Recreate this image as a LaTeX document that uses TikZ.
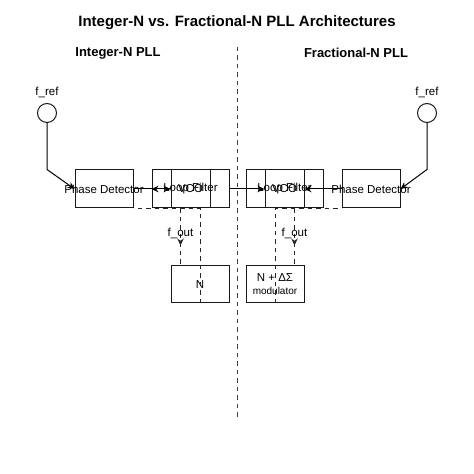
\documentclass[tikz,border=0pt]{standalone}
\usepackage{fontspec}
\setmainfont{Liberation Sans}
\usepackage{tikz}
\usetikzlibrary{arrows.meta,calc,positioning}

\tikzset{
  block/.style={draw=black!90, rectangle, minimum height=38pt, inner sep=0pt},
  fbline/.style={draw=black!85, dash pattern=on 4.5pt off 4pt},
  source/.style={draw=black!90, circle, minimum size=19pt, inner sep=0pt},
}

\begin{document}
\begin{tikzpicture}[x=1pt,y=1pt,>={Stealth[length=7pt,width=6.5pt]},line width=1pt,node distance=18pt,
    font=\fontsize{11.5}{14}\selectfont]
\useasboundingbox (0,0) rectangle (474,474);

% titles
\node[font=\bfseries\fontsize{15}{18}\selectfont] (title) at (237,451) {Integer-N vs. Fractional-N PLL Architectures};
\node[font=\bfseries\fontsize{13}{16}\selectfont] (intN) at (118,421) {Integer-N PLL};
\node[font=\bfseries\fontsize{13}{16}\selectfont] (fracN) at (356,421) {Fractional-N PLL};

% divider
\coordinate (divtop) at (237,427);
\coordinate (divbot) at (237,54);
\draw[fbline,draw=black!75] (divtop) -- (divbot);

% Integer-N side
\node[source,label={[label distance=1.5pt]above:f\_ref}] (ref1) at (47,361) {};
\node[block,minimum width=58pt] (pd1) at (104,285) {\makebox[0pt]{Phase Detector}};
\node[block,minimum width=77pt] [right=of pd1] (lf1) {Loop Filter};
\node[block,minimum width=39pt] (vco1) at (lf1) {VCO};
\node[block,minimum width=58pt,minimum height=37pt] [below left=57pt and 0pt of lf1.south east] (n1) {N};

% Fractional-N side
\node[source,label={[label distance=1.5pt]above:f\_ref}] (ref2) at (427,361) {};
\node[block,minimum width=77pt] (lf2) at (284.5,285) {Loop Filter};
\node[block,minimum width=58pt] [right=of lf2] (pd2) {\makebox[0pt]{Phase Detector}};
\node[block,minimum width=39pt] (vco2) at (lf2) {VCO};
\node[block,minimum width=58pt,minimum height=37pt,align=center] [below right=57pt and 0pt of lf2.south west] (ds2)
  {N + ΔΣ\\[-1pt]{\fontsize{10}{12}\selectfont modulator}};

% forward paths
\draw[->] (ref1.south) -- (ref1.south |- pd1.north) -- (pd1.west);
\draw[->] (pd1.east) -- (vco1.west);
\draw[->] (vco1.west) -- (lf1.west);
\draw (lf1.east) -- (lf2.west);
\draw[->] (ref2.south) -- (ref2.south |- pd2.north) -- (pd2.east);
\draw[->] (lf2.west) -- (vco2.west);
\draw[->] (pd2.west) -- (vco2.east);

% outputs and feedback
\coordinate (out1) at ($(vco1.south west)+(10,0)$);
\coordinate (tip1) at ($(out1)+(0,-37)$);
\draw[fbline] (out1) -- (out1 |- n1.north);
\draw[fbline,->] (out1) -- node[pos=0.68] {f\_out} (tip1);
\draw[fbline] (n1.south) -- (n1.south |- lf1.south) -- (pd1.south east);

\coordinate (out2) at ($(vco2.south east)+(-10,0)$);
\coordinate (tip2) at ($(out2)+(0,-37)$);
\draw[fbline] (out2) -- (out2 |- ds2.north);
\draw[fbline,->] (out2) -- node[pos=0.68] {f\_out} (tip2);
\draw[fbline] (ds2.south) -- (ds2.south |- lf2.south) -- (pd2.south west);
\end{tikzpicture}
\end{document}
